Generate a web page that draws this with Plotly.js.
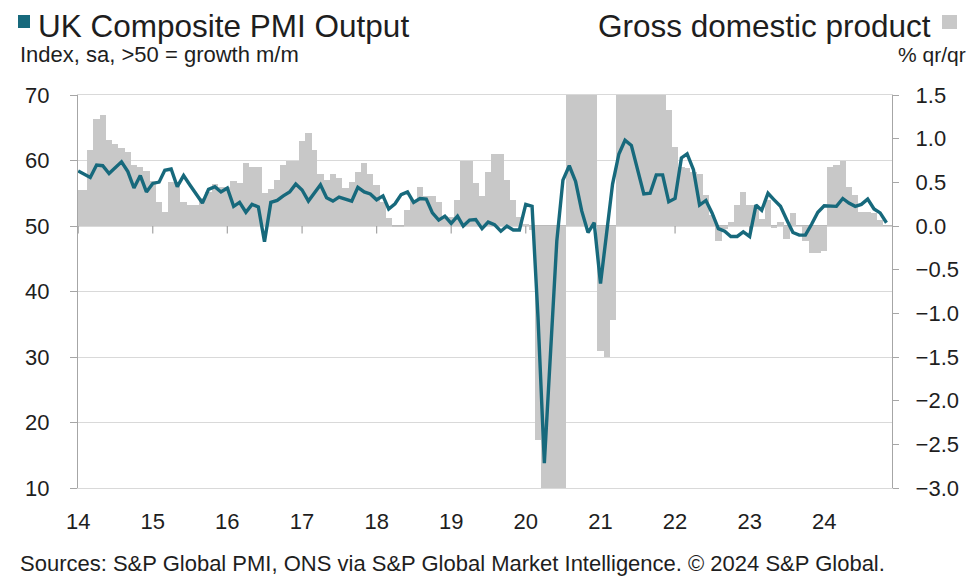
<!DOCTYPE html>
<html>
<head>
<meta charset="utf-8">
<script src="https://cdn.plot.ly/plotly-3.0.1.min.js"></script>
<style>
  html, body { margin: 0; padding: 0; background: #ffffff; }
  #chart { width: 975px; height: 581px; }
</style>
</head>
<body>
<div id="chart"></div>
<script>
// Monthly series, starting January 2014
const startYear = 2014;

// UK Composite PMI Output Index (sa, >50 = growth m/m)
const pmiOutput = [
  58.4, 57.9, 57.4, 59.3, 59.2, 58.0, 58.9, 59.8, 58.3, 55.8, 57.7, 55.2, // 2014
  56.5, 56.7, 58.5, 58.7, 56.0, 57.7, 56.3, 55.0, 53.5, 55.6, 56.0, 55.2, // 2015
  55.8, 53.0, 53.6, 52.1, 53.3, 52.9, 47.6, 53.6, 53.9, 54.6, 55.2, 56.4, // 2016
  55.5, 53.8, 55.0, 56.3, 54.3, 53.8, 54.4, 54.1, 53.8, 55.9, 55.2, 54.9, // 2017
  54.0, 54.6, 52.6, 53.4, 54.8, 55.2, 53.6, 54.2, 54.1, 52.0, 50.9, 51.5, // 2018
  50.4, 51.5, 50.0, 50.9, 51.0, 49.6, 50.6, 50.2, 49.2, 50.0, 49.4, 49.4, // 2019
  53.3, 53.0, 36.0, 13.8, 30.0, 47.7, 57.0, 59.2, 56.8, 52.3, 49.0, 50.5, // 2020
  41.2, 49.6, 56.4, 61.0, 63.1, 62.3, 58.7, 54.9, 55.0, 57.8, 57.8, 53.7, // 2021
  54.2, 60.4, 61.0, 58.6, 53.2, 53.9, 52.0, 49.6, 49.2, 48.4, 48.4, 49.1, // 2022
  48.4, 53.2, 52.4, 55.0, 54.0, 53.0, 51.0, 49.0, 48.6, 48.6, 50.3, 52.1, // 2023
  53.1, 53.0, 53.0, 54.2, 53.5, 53.0, 53.3, 54.1, 52.6, 52.0, 50.5        // 2024
];

// Gross domestic product, % change on previous three months
const gdpGrowth = [
  0.41, 0.41, 0.87, 1.23, 1.27, 0.99, 0.94, 0.89, 0.85, 0.70, 0.68, 0.63,   // 2014
  0.51, 0.28, 0.16, 0.50, 0.50, 0.27, 0.24, 0.24, 0.32, 0.39, 0.48, 0.45,   // 2015
  0.45, 0.52, 0.49, 0.72, 0.68, 0.68, 0.38, 0.42, 0.53, 0.70, 0.74, 0.74,   // 2016
  0.97, 1.07, 0.87, 0.60, 0.53, 0.60, 0.55, 0.43, 0.50, 0.62, 0.72, 0.60,   // 2017
  0.47, 0.27, 0.09, -0.01, -0.01, 0.18, 0.30, 0.45, 0.34, 0.34, 0.27, 0.12, // 2018
  0.10, 0.30, 0.74, 0.74, 0.49, 0.34, 0.62, 0.83, 0.83, 0.53, 0.30, 0.10,   // 2019
  0.02, -0.05, -2.45, -10.4, -19.4, -20.5, -7.8, 8.3, 16.0, 14.5, 8.5, 1.8, // 2020
  -1.43, -1.50, -1.08, 3.8, 5.2, 5.6, 3.6, 2.9, 1.9, 1.7, 1.6, 1.33,        // 2021
  0.91, 0.68, 0.66, 0.62, 0.60, 0.36, 0.13, -0.17, -0.03, 0.05, 0.24, 0.39, // 2022
  0.24, 0.24, 0.08, 0.30, -0.02, 0.05, -0.15, 0.15, 0.0, -0.17, -0.31, -0.31, // 2023
  -0.29, 0.68, 0.70, 0.74, 0.45, 0.36, 0.16, 0.16, 0.15, 0.07               // 2024
];

const yearLabels = ['14', '15', '16', '17', '18', '19', '20', '21', '22', '23', '24'];
const pmiTicks = [10, 20, 30, 40, 50, 60, 70];

// Month-start dates for a series of n monthly observations
function monthDates(n) {
  const out = [];
  for (let i = 0; i < n; i++) {
    const y = startYear + Math.floor(i / 12);
    const m = (i % 12) + 1;
    out.push(y + '-' + String(m).padStart(2, '0') + '-01');
  }
  return out;
}
const yearTicks = yearLabels.map((_, k) => (startYear + k) + '-01-01');

// Plot-area geometry in pixels, used to place header/footer in paper units
const W = 975, H = 581;
const L = 78, R = 892, T = 95, B = 488;
const xp = px => (px - L) / (R - L);
const yp = py => (B - py) / (B - T);

const TEAL = '#17697c';
const GREY_BAR = '#c8c8c8';
const AXIS_GREY = '#a6a6a6';
const FONT = 'Liberation Sans, Arial, Helvetica, sans-serif';
const TXT = '#1e1e1e';

// GDP bars sit on the primary (right-hand) axis so the PMI line is drawn above them
const gdpTrace = {
  type: 'bar',
  x: monthDates(gdpGrowth.length),
  y: gdpGrowth,
  xaxis: 'x', yaxis: 'y',
  width: 31 * 24 * 3600 * 1000,
  marker: { color: GREY_BAR, line: { width: 0 } },
  hoverinfo: 'skip'
};

const pmiTrace = {
  type: 'scatter',
  mode: 'lines',
  x: monthDates(pmiOutput.length),
  y: pmiOutput,
  xaxis: 'x', yaxis: 'y2',
  line: { color: TEAL, width: 3.4, shape: 'linear' },
  hoverinfo: 'skip'
};

// 0.0 / 50 crossing line with year tick marks hanging below it
const shapes = [
  { type: 'line', xref: 'paper', yref: 'y', x0: 0, x1: 1, y0: 0, y1: 0,
    line: { color: '#a3a3a3', width: 1.5 }, layer: 'between' }
];
yearTicks.forEach(d => {
  shapes.push({ type: 'line', xref: 'x', yref: 'y', x0: d, x1: d, y0: 0, y1: -0.085,
    line: { color: '#a3a3a3', width: 1.2 }, layer: 'between' });
});
// Key squares in the header
shapes.push({ type: 'rect', xref: 'paper', yref: 'paper',
  x0: xp(18), x1: xp(30), y0: yp(28), y1: yp(15),
  fillcolor: TEAL, line: { width: 0 } });
shapes.push({ type: 'rect', xref: 'paper', yref: 'paper',
  x0: xp(942), x1: xp(957), y0: yp(29), y1: yp(15),
  fillcolor: GREY_BAR, line: { width: 0 } });

const annotations = [
  { text: 'UK Composite PMI Output', x: xp(37), y: yp(26), xanchor: 'left', yanchor: 'middle',
    font: { size: 31.5, color: TXT, family: FONT } },
  { text: 'Index, sa, >50 = growth m/m', x: xp(19), y: yp(54), xanchor: 'left', yanchor: 'middle',
    font: { size: 22, color: TXT, family: FONT } },
  { text: 'Gross domestic product', x: xp(932), y: yp(26), xanchor: 'right', yanchor: 'middle',
    font: { size: 31.5, color: TXT, family: FONT } },
  { text: '% qr/qr', x: xp(967), y: yp(54), xanchor: 'right', yanchor: 'middle',
    font: { size: 21, color: TXT, family: FONT } },
  { text: 'Sources: S&amp;P Global PMI, ONS via S&amp;P Global Market Intelligence. © 2024 S&amp;P Global.',
    x: xp(19), y: yp(563), xanchor: 'left', yanchor: 'middle',
    font: { size: 22, color: TXT, family: FONT } }
].map(a => Object.assign({ xref: 'paper', yref: 'paper', showarrow: false, borderpad: 0 }, a));

const layout = {
  width: W, height: H,
  margin: { l: L, r: W - R, t: T, b: H - B, pad: 0 },
  paper_bgcolor: '#ffffff',
  plot_bgcolor: '#ffffff',
  showlegend: false,
  bargap: 0,
  font: { family: FONT, color: TXT },
  xaxis: {
    type: 'date',
    range: ['2013-12-31', '2024-11-28'],
    tickvals: yearTicks,
    ticktext: yearLabels,
    ticks: '',
    showgrid: false,
    zeroline: false,
    showline: true, mirror: true,
    linecolor: '#d9d9d9', linewidth: 1,
    tickfont: { size: 22, color: TXT, family: FONT },
    ticklabelstandoff: 14
  },
  // GDP, % qr/qr (right)
  yaxis: {
    side: 'right', anchor: 'x',
    range: [-3, 1.5],
    dtick: 0.5, tick0: 0,
    tickformat: '.1f',
    ticks: 'outside', ticklen: 6, tickcolor: AXIS_GREY, tickwidth: 1,
    showline: true, linecolor: AXIS_GREY, linewidth: 1.2,
    showgrid: false, zeroline: false,
    tickfont: { size: 22, color: TXT, family: FONT },
    ticklabelstandoff: 12
  },
  // PMI index (left)
  yaxis2: {
    overlaying: 'y', side: 'left', anchor: 'x',
    range: [10, 70],
    tickvals: pmiTicks,
    ticks: 'outside', ticklen: 7, tickcolor: AXIS_GREY, tickwidth: 1,
    showline: true, linecolor: AXIS_GREY, linewidth: 1.2,
    showgrid: true, gridcolor: '#d9d9d9', gridwidth: 1,
    zeroline: false,
    tickfont: { size: 22, color: TXT, family: FONT },
    ticklabelstandoff: 16
  },
  shapes: shapes,
  annotations: annotations
};

Plotly.newPlot('chart', [gdpTrace, pmiTrace], layout, { staticPlot: true, displayModeBar: false });
</script>
</body>
</html>
